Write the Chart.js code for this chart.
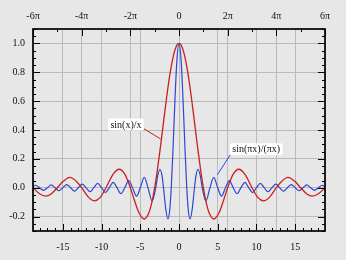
<!DOCTYPE html>
<html>
<head>
<meta charset="utf-8">
<script src="https://cdn.jsdelivr.net/npm/chart.js@4.4.1/dist/chart.umd.min.js"></script>
<style>
  html, body { margin: 0; padding: 0; background: #e7e7e7; }
  #wrap { width: 346px; height: 260px; }
</style>
</head>
<body>
<div id="wrap"><canvas id="c" width="346" height="260"></canvas></div>
<script>
// ─── Data ─────────────────────────────────────────────────────────────────────

// red curve, sin(x)/x
const redX = [-18.85, -18.0, -17.22, -16.5, -15.71, -14.9, -14.07, -13.3, -12.57, -11.7, -10.9, -10.2,
  -9.42, -8.5, -7.73, -7.0, -6.28, -5.8, -5.2, -4.49, -3.9, -3.5, -3.14, -2.8, -2.4, -2.0, -1.6, -1.2,
  -0.8, -0.4, 0, 0.4, 0.8, 1.2, 1.6, 2.0, 2.4, 2.8, 3.14, 3.5, 3.9, 4.49, 5.2, 5.8, 6.28, 7.0, 7.73,
  8.5, 9.42, 10.2, 10.9, 11.7, 12.57, 13.3, 14.07, 14.9, 15.71, 16.5, 17.22, 18.0, 18.85];
const redY = [0, -0.042, -0.058, -0.043, 0, 0.046, 0.071, 0.046, 0, -0.065, -0.091, -0.069,
  0, 0.094, 0.128, 0.094, 0, -0.080, -0.170, -0.217, -0.176, -0.100, 0, 0.120, 0.281, 0.455, 0.625, 0.777,
  0.897, 0.974, 1.0, 0.974, 0.897, 0.777, 0.625, 0.455, 0.281, 0.120, 0, -0.100, -0.176, -0.217, -0.170, -0.080, 0, 0.094, 0.128,
  0.094, 0, -0.069, -0.091, -0.065, 0, 0.046, 0.071, 0.046, 0, -0.043, -0.058, -0.042, 0];

// blue curve, sin(πx)/(πx)
const blueX = [-18.85, -18.5, -18, -17.5, -17, -16.5, -16, -15.5, -15, -14.5, -14, -13.5, -13, -12.5,
  -12, -11.5, -11, -10.5, -10, -9.5, -9, -8.5, -8, -7.49, -7, -6.49, -6, -5.48, -5, -4.48, -4, -3.47,
  -3, -2.75, -2.46, -2.2, -2, -1.7, -1.43, -1.2, -1, -0.75, -0.5, -0.25, 0, 0.25, 0.5, 0.75, 1, 1.2,
  1.43, 1.7, 2, 2.2, 2.46, 2.75, 3, 3.47, 4, 4.48, 5, 5.48, 6, 6.49, 7, 7.49, 8, 8.5, 9, 9.5, 10,
  10.5, 11, 11.5, 12, 12.5, 13, 13.5, 14, 14.5, 15, 15.5, 16, 16.5, 17, 17.5, 18, 18.5, 18.85];
const blueY = [0.008, 0.017, 0, -0.018, 0, 0.019, 0, -0.021, 0, 0.022, 0, -0.024, 0, 0.025,
  0, -0.028, 0, 0.030, 0, -0.034, 0, 0.037, 0, -0.042, 0, 0.049, 0, -0.058, 0, 0.071, 0, -0.091,
  0, 0.082, 0.128, 0.085, 0, -0.151, -0.217, -0.156, 0, 0.300, 0.637, 0.900, 1.0, 0.900, 0.637, 0.300, 0, -0.156,
  -0.217, -0.151, 0, 0.085, 0.128, 0.082, 0, -0.091, 0, 0.071, 0, -0.058, 0, 0.049, 0, -0.042, 0, 0.037, 0, -0.034, 0,
  0.030, 0, -0.028, 0, 0.025, 0, -0.024, 0, 0.022, 0, -0.021, 0, 0.019, 0, -0.018, 0, 0.017, 0.008];

// top axis labels, one per multiple of 2π
const topTickLabels = ['-6π', '-4π', '-2π', '0', '2π', '4π', '6π'];
const seriesNames   = ['sin(x)/x', 'sin(πx)/(πx)'];

// ─── Styling ──────────────────────────────────────────────────────────────────

const BG_COLOR   = '#e7e7e7';
const GRID_COLOR = '#bababa';
const RED        = '#c8201e';
const BLUE       = '#2d47d4';
const FONT       = "'Liberation Serif', 'DejaVu Serif', serif";
const X_MAX      = 6 * Math.PI;

// callout boxes, placed in data units
const callouts = [
  { text: seriesNames[0], color: RED,  at: [-6.85, 0.438], from: [-4.7, 0.414], to: [-2.38, 0.338] },
  { text: seriesNames[1], color: BLUE, at: [9.97, 0.266],  from: [6.63, 0.228], to: [4.95, 0.09] },
];

const isMajorY = v => Math.round(v * 100) % 20 === 0;
const isMajorX = v => Math.round(v) % 5 === 0;
const isMajorTop = v => Math.round(v / Math.PI) % 2 === 0;

// ─── Plugins ─────────────────────────────────────────────────────────────────

const background = {
  id: 'background',
  beforeDraw(chart) {
    const ctx = chart.ctx;
    ctx.save();
    ctx.fillStyle = BG_COLOR;
    ctx.fillRect(0, 0, chart.width, chart.height);
    ctx.restore();
  },
};

const frameAndTicks = {
  id: 'frameAndTicks',
  afterDatasetsDraw(chart) {
    const ctx = chart.ctx;
    const { left, right, top, bottom } = chart.chartArea;
    const xs = chart.scales.x, xt = chart.scales.x2, ys = chart.scales.y;
    ctx.save();
    ctx.strokeStyle = '#000';
    ctx.lineWidth = 1;
    ctx.beginPath();
    xs.ticks.forEach(t => {
      const p = Math.round(xs.getPixelForValue(t.value)) + 0.5;
      const len = isMajorX(t.value) ? 7 : 3;
      ctx.moveTo(p, bottom); ctx.lineTo(p, bottom - len);
    });
    xt.ticks.forEach(t => {
      const p = Math.round(xt.getPixelForValue(t.value)) + 0.5;
      const len = isMajorTop(t.value) ? 7 : 3;
      ctx.moveTo(p, top); ctx.lineTo(p, top + len);
    });
    ys.ticks.forEach(t => {
      const p = Math.round(ys.getPixelForValue(t.value)) + 0.5;
      const len = isMajorY(t.value) ? 7 : 3;
      ctx.moveTo(left, p);  ctx.lineTo(left + len, p);
      ctx.moveTo(right, p); ctx.lineTo(right - len, p);
    });
    ctx.stroke();
    ctx.lineWidth = 1.7;
    ctx.strokeRect(left, top, right - left, bottom - top);

    // callouts
    ctx.font = '10px ' + FONT;
    ctx.textAlign = 'center';
    ctx.textBaseline = 'middle';
    callouts.forEach(c => {
      const fx = xs.getPixelForValue(c.from[0]), fy = ys.getPixelForValue(c.from[1]);
      const tx = xs.getPixelForValue(c.to[0]),   ty = ys.getPixelForValue(c.to[1]);
      ctx.strokeStyle = c.color;
      ctx.lineWidth = 1;
      ctx.beginPath(); ctx.moveTo(fx, fy); ctx.lineTo(tx, ty); ctx.stroke();

      const cx = xs.getPixelForValue(c.at[0]), cy = ys.getPixelForValue(c.at[1]);
      const w = ctx.measureText(c.text).width + 5, h = 12;
      ctx.fillStyle = '#fff';
      ctx.beginPath();
      ctx.roundRect(cx - w / 2, cy - h / 2, w, h, 2);
      ctx.fill();
      ctx.fillStyle = '#111';
      ctx.fillText(c.text, cx, cy + 0.5);
    });
    ctx.restore();
  },
};

// ─── Chart ───────────────────────────────────────────────────────────────────

const tickFont = { family: FONT, size: 10 };

new Chart(document.getElementById('c'), {
  type: 'line',
  data: {
    datasets: [
      {
        label: seriesNames[0],
        data: redX.map((x, i) => ({ x, y: redY[i] })),
        borderColor: RED, borderWidth: 1.3,
        pointRadius: 0, fill: false, cubicInterpolationMode: 'monotone',
      },
      {
        label: seriesNames[1],
        data: blueX.map((x, i) => ({ x, y: blueY[i] })),
        borderColor: BLUE, borderWidth: 1.2,
        pointRadius: 0, fill: false, cubicInterpolationMode: 'monotone',
      },
    ],
  },
  options: {
    responsive: false,
    animation: false,
    layout: { padding: { left: 0, right: 21, top: 0, bottom: 0 } },
    plugins: { legend: { display: false }, tooltip: { enabled: false } },
    scales: {
      x: {
        type: 'linear', position: 'bottom', min: -X_MAX, max: X_MAX,
        afterBuildTicks: s => { s.ticks = []; for (let i = -18; i <= 18; i++) s.ticks.push({ value: i }); },
        afterFit: s => { s.height = 29; },
        ticks: {
          autoSkip: false, maxRotation: 0, padding: 10, color: '#111', font: tickFont,
          callback: v => (isMajorX(v) ? String(v) : ''),
        },
        grid: { drawTicks: false, color: c => (isMajorX(c.tick.value) ? GRID_COLOR : 'rgba(0,0,0,0)') },
        border: { display: false },
      },
      x2: {
        type: 'linear', position: 'top', min: -X_MAX, max: X_MAX,
        afterBuildTicks: s => { s.ticks = []; for (let k = -6; k <= 6; k++) s.ticks.push({ value: k * Math.PI }); },
        afterFit: s => { s.height = 29; },
        ticks: {
          autoSkip: false, maxRotation: 0, padding: 7, color: '#111', font: tickFont,
          callback: v => (isMajorTop(v) ? topTickLabels[Math.round(v / Math.PI / 2) + 3] : ''),
        },
        grid: { drawTicks: false, color: c => (isMajorTop(c.tick.value) ? GRID_COLOR : 'rgba(0,0,0,0)') },
        border: { display: false },
      },
      y: {
        type: 'linear', position: 'left', min: -0.3, max: 1.1,
        afterBuildTicks: s => { s.ticks = []; for (let i = 0; i <= 28; i++) s.ticks.push({ value: Math.round((-0.3 + i * 0.05) * 100) / 100 }); },
        afterFit: s => { s.width = 33; },
        ticks: {
          autoSkip: false, padding: 8, color: '#111', font: tickFont,
          callback: v => (isMajorY(v) ? v.toFixed(1) : ''),
        },
        grid: { drawTicks: false, color: c => (isMajorY(c.tick.value) ? GRID_COLOR : 'rgba(0,0,0,0)') },
        border: { display: false },
      },
    },
  },
  plugins: [background, frameAndTicks],
});
</script>
</body>
</html>
